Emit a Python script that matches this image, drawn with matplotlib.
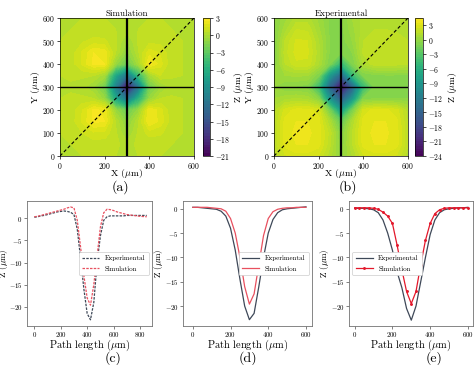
import numpy as np
import matplotlib
matplotlib.use("Agg")
import matplotlib.pyplot as plt

plt.rcParams['font.family'] = 'serif'
plt.rcParams['font.serif'] = ['cmr10']
plt.rcParams['mathtext.fontset'] = 'cm'
plt.rcParams['axes.formatter.use_mathtext'] = True
plt.rcParams['axes.unicode_minus'] = True

# ---- map data (Z in um on a 50 um grid, rows y=0..600, cols x=0..600) ----
grid_x = [0, 50, 100, 150, 200, 250, 300, 350, 400, 450, 500, 550, 600]
grid_y = [0, 50, 100, 150, 200, 250, 300, 350, 400, 450, 500, 550, 600]

sim_z = [
    [0.4, 0.4, 0.5, 0.5, 0.5, 0.5, 0.4, 0.5, 0.5, 0.5, 0.5, 0.4, 0.4],
    [0.4, 0.5, 0.6, 0.7, 0.7, 0.6, 0.3, 0.6, 0.6, 0.6, 0.5, 0.5, 0.4],
    [0.5, 0.6, 1.0, 1.4, 1.3, 0.6, -0.6, 0.6, 1.2, 1.1, 0.6, 0.5, 0.5],
    [0.5, 0.7, 1.6, 2.6, 2.5, 0.4, -1.2, 0.4, 2.5, 1.8, 0.7, 0.5, 0.5],
    [0.5, 0.7, 1.5, 2.6, 2.4, -0.8, -2.5, -0.8, 2.5, 1.7, 0.6, 0.5, 0.5],
    [0.5, 0.6, 0.6, 0.5, -0.8, -7.0, -12.0, -6.0, -0.8, 0.5, 0.6, 0.5, 0.5],
    [0.5, 0.4, 0.2, -0.5, -2.2, -11.0, -21.0, -12.0, -2.2, -0.6, 0.2, 0.4, 0.5],
    [0.5, 0.6, 0.6, 0.5, -0.3, -7.0, -12.0, -5.0, -0.3, 1.0, 0.6, 0.5, 0.5],
    [0.5, 0.7, 1.6, 2.6, 2.5, -0.8, -2.5, -0.3, 2.7, 1.7, 0.6, 0.5, 0.5],
    [0.5, 0.7, 1.6, 2.5, 2.3, 0.5, -1.2, 0.4, 1.8, 1.4, 0.6, 0.5, 0.5],
    [0.5, 0.6, 0.9, 1.2, 1.1, 0.6, -0.6, 0.6, 0.8, 0.8, 0.7, 0.5, 0.5],
    [0.5, 0.5, 0.6, 0.6, 0.6, 0.5, 0.3, 0.5, 0.6, 0.6, 0.5, 0.5, 0.5],
    [0.4, 0.5, 0.5, 0.5, 0.5, 0.5, 0.4, 0.5, 0.5, 0.5, 0.5, 0.5, 0.4],
]

exp_z = [
    [1.2, 2.4, 2.8, 2.8, 2.5, 1.2, -0.3, 1.0, 2.4, 2.8, 2.8, 2.4, 1.2],
    [1.5, 3.2, 3.5, 3.5, 3.2, 1.6, -0.5, 1.4, 3.2, 3.5, 3.5, 3.2, 1.5],
    [1.5, 3.3, 3.6, 3.6, 3.3, 1.8, -0.8, 1.5, 3.3, 3.6, 3.6, 3.2, 1.5],
    [1.4, 3.2, 3.5, 3.5, 3.2, 1.0, -2.3, 1.0, 3.2, 3.5, 3.5, 3.1, 1.4],
    [1.2, 2.7, 3.2, 3.2, 2.8, -1.5, -8.5, -1.5, 2.7, 3.2, 3.1, 2.7, 1.2],
    [0.5, 0.8, 1.0, 0.8, -0.5, -9.5, -16.0, -9.5, -0.8, -0.6, -0.5, -0.5, -0.5],
    [0.0, -0.5, -0.6, -0.8, -4.5, -15.0, -23.5, -15.5, -5.0, -1.0, -0.8, -0.7, -0.6],
    [0.3, 0.5, 0.6, 0.5, -1.0, -9.0, -15.0, -5.0, -1.0, -0.7, -0.6, -0.6, -0.6],
    [-0.6, 1.5, 2.4, 2.4, 1.0, -1.0, -5.3, -1.0, 1.0, 1.8, 1.8, 1.7, 1.5],
    [-0.8, 1.8, 2.7, 2.6, 1.2, -0.6, -1.0, -0.5, 1.6, 2.0, 2.0, 1.9, 1.6],
    [-0.8, 1.6, 2.6, 2.5, 1.0, -0.6, -0.8, 0.0, 1.5, 1.9, 1.9, 1.8, 1.5],
    [-0.7, 0.8, 2.0, 1.9, 0.6, -0.6, -0.7, 0.3, 1.2, 1.5, 1.5, 1.4, 1.3],
    [-0.6, 0.3, 1.2, 1.2, 0.3, -0.6, -0.6, 0.5, 1.2, 1.3, 1.3, 1.3, 1.2],
]

# ---- profile data ----
path_c = [0, 25, 50, 75, 100, 125, 150, 175, 200, 225, 250, 275, 300, 325, 350,
          375, 400, 425, 450, 475, 500, 525, 550, 575, 600, 625, 650, 675, 700,
          725, 750, 775, 800, 825, 850]
exp_c = [0.2, 0.3, 0.5, 0.6, 0.8, 1.0, 1.2, 1.4, 1.5, 1.6, 1.5, 1.3, 0.8, -2.5,
         -9.0, -16.0, -21.5, -22.9, -19.0, -10.0, -4.0, -0.5, 0.3, 0.5, 0.5, 0.5,
         0.5, 0.5, 0.6, 0.6, 0.6, 0.6, 0.6, 0.6, 0.6]
sim_c = [0.3, 0.4, 0.6, 0.8, 1.0, 1.2, 1.4, 1.6, 1.8, 2.0, 2.3, 2.5, 2.3, -0.5,
         -6.5, -13.0, -18.0, -19.6, -15.0, -8.5, -2.0, 1.2, 2.0, 1.9, 1.7, 1.4,
         1.2, 1.0, 0.8, 0.7, 0.6, 0.5, 0.4, 0.35, 0.3]

path_de = [0, 25, 50, 75, 100, 125, 150, 175, 200, 225, 250, 275, 300, 325, 350,
           375, 400, 425, 450, 475, 500, 525, 550, 575, 600]
exp_d = [0.3, 0.3, 0.2, 0.1, 0.0, -0.1, -0.5, -1.5, -4.0, -8.5, -14.5, -20.0,
         -22.8, -21.5, -16.0, -10.0, -5.0, -2.2, -0.8, -0.2, 0.0, 0.1, 0.2, 0.3, 0.4]
sim_d = [0.3, 0.3, 0.3, 0.3, 0.2, 0.1, 0.0, -0.5, -2.0, -5.0, -10.0, -16.0,
         -19.6, -17.5, -11.5, -5.5, -2.0, -0.6, -0.1, 0.1, 0.2, 0.2, 0.3, 0.3, 0.3]
exp_e = [0.1, 0.1, 0.1, 0.0, -0.2, -0.8, -2.3, -5.0, -8.5, -13.0, -16.2, -20.5,
         -22.9, -20.0, -15.0, -10.0, -5.3, -2.3, -0.8, -0.2, 0.0, 0.1, 0.2, 0.2, 0.3]
sim_e = [0.2, 0.2, 0.2, 0.2, 0.1, -0.1, -0.7, -1.5, -3.0, -7.5, -12.5, -17.0,
         -19.5, -17.0, -11.5, -6.5, -3.0, -1.0, -0.2, 0.1, 0.2, 0.2, 0.2, 0.2, 0.2]

W, H = 474, 365
fig = plt.figure(figsize=(W / 100, H / 100), dpi=100)


def box(l, r, t, b):
    return [l / W, (H - b) / H, (r - l) / W, (b - t) / H]


def heat(ax_rect, cb_rect, z, vmin, vmax, title, ylab_x, cb_lab_x, tag, tag_x):
    ax = fig.add_axes(box(*ax_rect))
    cax = fig.add_axes(box(*cb_rect))
    levels = np.arange(vmin, vmax + 0.01, 0.5)
    cs = ax.contourf(grid_x, grid_y, np.array(z), levels=levels, cmap='viridis',
                     vmin=vmin, vmax=vmax)
    ax.plot([300, 300], [0, 600], color='k', lw=1.6)
    ax.plot([0, 600], [300, 300], color='k', lw=1.0)
    ax.plot([0, 600], [0, 600], color='k', lw=0.8, ls=(0, (3, 2)))
    ax.set_xlim(0, 600)
    ax.set_ylim(0, 600)
    ax.set_xticks([0, 200, 400, 600])
    ax.set_yticks([0, 100, 200, 300, 400, 500, 600])
    ax.tick_params(labelsize=5.5, length=2, width=0.5, pad=1.5)
    ax.set_title(title, fontsize=6.5, pad=1.5)
    ax.set_xlabel(r'X ($\mu$m)', fontsize=7)
    ax.set_ylabel(r'Y ($\mu$m)', fontsize=7)
    w = ax_rect[1] - ax_rect[0]
    ax.yaxis.set_label_coords((ylab_x - ax_rect[0]) / w, 0.5)
    ax.xaxis.set_label_coords(0.5, (ax_rect[3] - 167) / (ax_rect[3] - ax_rect[2]))
    for s in ax.spines.values():
        s.set_linewidth(0.5)
    ticks = np.arange(-21 if vmin == -21 else -24, 3.01, 3)
    cb = fig.colorbar(cs, cax=cax, ticks=ticks)
    cb.ax.tick_params(labelsize=5.5, length=2, width=0.5, pad=1.5)
    cb.outline.set_linewidth(0.5)
    cb.set_label(r'Z ($\mu$m)', fontsize=7)
    cw = cb_rect[1] - cb_rect[0]
    cb.ax.yaxis.set_label_coords((cb_lab_x - cb_rect[0]) / cw, 0.5)
    fig.text(tag_x / W, 1 - 187 / H, tag, fontsize=10, ha='center', va='center')


heat((60, 194, 18, 156), (203, 210, 18, 156), sim_z, -21, 3, 'Simulation', 42, 232, '(a)', 120)
heat((274, 408, 18, 156), (415, 423, 18, 156), exp_z, -24, 4.5, 'Experimental', 256, 446, '(b)', 348)


def profile(rect, x, e, s, xlim, ylim, xticks, ls, loc, ylab_x, tag, tag_x, sim_color, marker=None):
    ax = fig.add_axes(box(*rect))
    ax.plot(x, e, color='#3e4858', lw=0.9, ls=ls, label='Experimental')
    ax.plot(x, s, color=sim_color, lw=0.9, ls=ls, label='Simulation',
            marker=marker, ms=2.2)
    ax.set_xlim(*xlim)
    ax.set_ylim(*ylim)
    ax.set_xticks(xticks)
    ax.set_yticks([0, -5, -10, -15, -20])
    ax.tick_params(labelsize=5, length=2, width=0.5, pad=1.2, color='0.3')
    for sp in ax.spines.values():
        sp.set_linewidth(0.6)
        sp.set_color('0.45')
    ax.set_xlabel(r'Path length ($\mu$m)', fontsize=7.5)
    ax.set_ylabel(r'Z ($\mu$m)', fontsize=6.5)
    w = rect[1] - rect[0]
    ax.yaxis.set_label_coords((ylab_x - rect[0]) / w, 0.5)
    ax.xaxis.set_label_coords(0.5, (rect[3] - 338) / (rect[3] - rect[2]))
    leg = ax.legend(loc=loc, fontsize=5, handlelength=2.4, borderpad=0.5,
                    labelspacing=0.6, fancybox=True, framealpha=1)
    leg.get_frame().set_linewidth(0.5)
    fig.text(tag_x / W, 1 - 358.5 / H, tag, fontsize=10, ha='center', va='center')


profile((27, 152, 201, 326), path_c, exp_c, sim_c, (-55, 890), (-24.3, 3.85),
        [0, 200, 400, 600, 800], (0, (2, 1)), 'center right', 10, '(c)', 113, '#e8505f')
profile((183, 312, 201, 326), path_de, exp_d, sim_d, (-52, 632), (-24.1, 1.6),
        [0, 200, 400, 600], '-', 'center right', 165, '(d)', 248, '#e8505f')
profile((349, 473, 201, 326), path_de, exp_e, sim_e, (-30, 627), (-24.1, 1.6),
        [0, 200, 400, 600], '-', 'center left', 331, '(e)', 434, '#e3182b', marker='.')

fig.savefig('out.png', dpi=100)
